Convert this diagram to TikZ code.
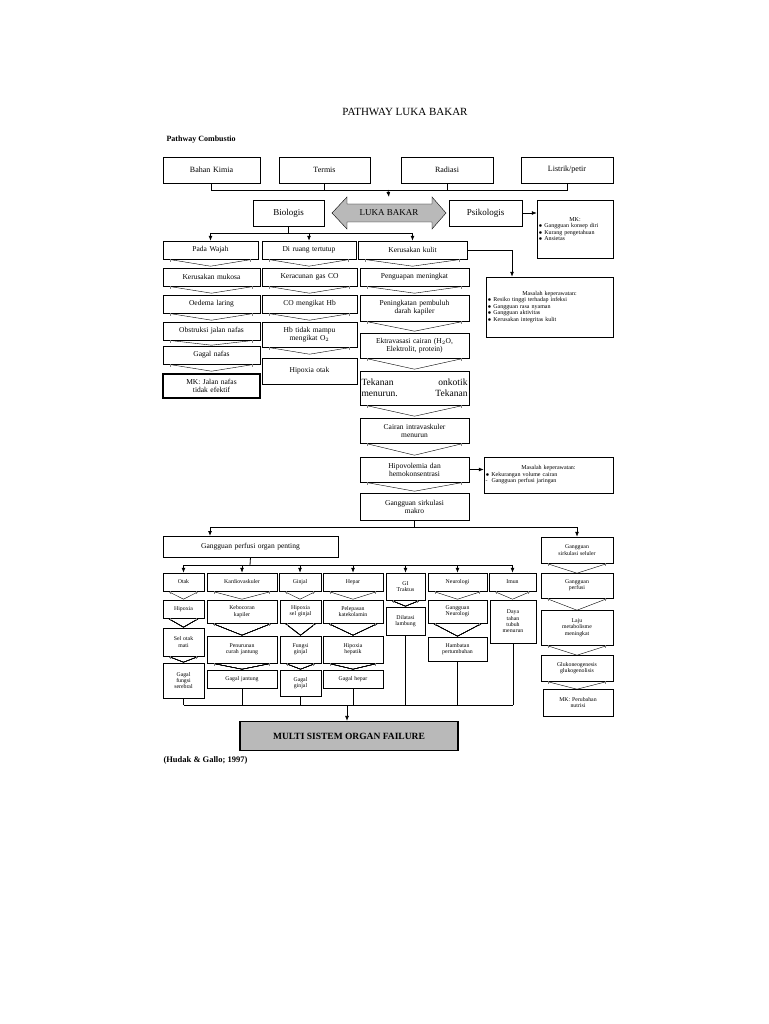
\documentclass[tikz,border=0pt]{standalone}
\usepackage{fontspec}
\setmainfont{Liberation Serif}
\usetikzlibrary{calc,arrows.meta}
\tikzset{box/.style={draw,fill=white,align=center,inner sep=0.5pt,font=\fontsize{7.5}{8}\selectfont},
 sm/.style={font=\fontsize{5.8}{6.3}\selectfont},
 arr/.style={-{Latex[length=5pt,width=4pt]},thick},
 ln/.style={thick}}
\newcommand\bx[7][]{\pgfmathsetmacro\bw{#5-#3}\pgfmathsetmacro\bh{#6-#4}\pgfmathsetmacro\tw{#5-#3-3}
 \node[box,#1,minimum width=\bw pt,minimum height=\bh pt,text width=\tw pt] (#2) at ({(#3+#5)/2},{(#4+#6)/2}) {#7};}
\newcommand\vv[2][7]{\draw ($(#2.south west)+(5,0)$) -- ($(#2.south)+(0,#1)$) -- ($(#2.south east)+(-5,0)$);
 \draw[gray,thick] ($(#2.south west)+(8,0)$) -- ++(0,2.5) ($(#2.south east)+(-8,0)$) -- ++(0,2.5);}
\begin{document}
\begin{tikzpicture}[x=1pt,y=-1pt]
\useasboundingbox (0,0) rectangle (768,1024);
\node (title) at (405,112) {\fontsize{11}{12}\selectfont PATHWAY LUKA BAKAR};
\node[anchor=west] (sub) at (163,140) {\fontsize{8}{9}\selectfont\bfseries Pathway Combustio};
% row 1
\bx[font=\fontsize{8}{9}\selectfont]{bk}{163}{157}{260}{183}{Bahan Kimia}
\bx[font=\fontsize{8}{9}\selectfont]{te}{279}{157}{370}{183}{Termis}
\bx[font=\fontsize{8}{9}\selectfont]{ra}{401}{157}{493}{183}{Radiasi}
\bx[font=\fontsize{8}{9}\selectfont]{li}{521}{157}{613}{183}{Listrik/petir}
\coordinate (j1) at (388,190);
\draw[ln] (bk.south) -- (bk.south|-j1) -- (li.south|-j1) -- (li.south);
\draw[ln] (te.south) -- (te.south|-j1) (ra.south) -- (ra.south|-j1);
% row 2
\bx[font=\fontsize{9}{10}\selectfont]{bio}{253}{200}{324}{226}{Biologis}
\bx[font=\fontsize{9}{10}\selectfont]{psi}{449}{200}{522}{226}{Psikologis}
\draw[fill=gray!55] (347,204)--(432,204)--(432,197)--(446,213)--(432,229)--(432,222)--(347,222)--(347,229)--(332,213)--(347,197)--cycle;
\node (lb) at (389,213) {\fontsize{9}{10}\selectfont LUKA BAKAR};
\draw[arr] (j1) -- (lb.north|-197,197);
\bx[align=left,font=\fontsize{6}{6.5}\selectfont]{mk1}{537}{200}{613}{258}{\centerline{MK:}\\ $\bullet$ Gangguan konsep diri\\ $\bullet$ Kurang pengetahuan\\ $\bullet$ Ansietas}
\draw[arr] (psi.east) -- (mk1.west|-psi.east);
% row 3
\bx{pw}{163}{241}{258}{259}{Pada Wajah}
\bx{dr}{262}{241}{356}{259}{Di ruang tertutup}
\bx{kk}{358}{241}{467}{259}{Kerusakan kulit}
\coordinate (j2) at (310,233);
\draw[ln] (bio.south) -- (bio.south|-j2);
\draw[arr] (pw.north|-j2) -- (pw.north);
\draw[ln] (pw.north|-j2) -- (kk.north|-j2);
\draw[arr] (dr.north|-j2) -- (dr.north);
\draw[arr] (kk.north|-j2) -- (kk.north);
\bx[align=left,font=\fontsize{6}{6.5}\selectfont]{mk2}{486}{277}{613}{337}{\centerline{Masalah keperawatan:}\\ $\bullet$ Resiko tinggi terhadap infeksi\\ $\bullet$ Gangguan rasa nyaman\\ $\bullet$ Gangguan aktivitas\\ $\bullet$ Kerusakan integritas kulit}
\draw[arr] (kk.east) -- (512,250) -- (mk2.north-|512,0);
% columns
\vv{pw}\vv{dr}\vv{kk}
\bx{c1a}{163}{268}{260}{286}{Kerusakan mukosa}
\bx{c1b}{163}{295}{260}{313}{Oedema laring}
\bx{c1c}{163}{322}{260}{340}{Obstruksi jalan nafas}
\bx{c1d}{163}{346}{260}{364}{Gagal nafas}
\bx[very thick]{c1e}{163}{374}{260}{398}{MK: Jalan nafas\\tidak efektif}
\vv{c1a}\vv{c1b}\vv[5]{c1c}\vv{c1d}
\bx{c2a}{262}{268}{357}{286}{Keracunan gas CO}
\bx{c2b}{262}{295}{357}{313}{CO mengikat Hb}
\bx{c2c}{262}{322}{357}{347}{Hb tidak mampu\\mengikat O$_2$}
\bx{c2d}{262}{358}{357}{384}{Hipoxia otak}
\vv{c2a}\vv{c2b}\vv{c2c}
\bx{c3a}{360}{268}{469}{286}{Penguapan meningkat}
\bx{c3b}{360}{295}{469}{321}{Peningkatan pembuluh\\darah kapiler}
\bx{c3c}{360}{333}{469}{358}{Ektravasasi cairan (H$_2$O,\\Elektrolit, protein)}
\bx[align=left,font=\fontsize{9.5}{11}\selectfont]{c3d}{360}{371}{469}{405}{Tekanan\hfill onkotik\\menurun.\hfill Tekanan}
\bx{c3e}{360}{418}{469}{443}{Cairan intravaskuler\\menurun}
\bx{c3f}{360}{457}{469}{482}{Hipovolemia dan\\hemokonsentrasi}
\bx{c3g}{360}{493}{469}{520}{Gangguan sirkulasi\\makro}
\vv{c3a}\vv[10]{c3b}\vv[11]{c3c}\vv[11]{c3d}\vv[12]{c3e}\vv[9]{c3f}
\bx[align=left,font=\fontsize{6}{6.5}\selectfont]{mk3}{484}{457}{613}{493}{\centerline{Masalah keperawatan:}\\ $\bullet$ Kekurangan volume cairan\\ -\ \ Gangguan perfusi jaringan}
\draw[arr] (c3f.east) -- (mk3.west|-c3f.east);
% split
\bx{gpo}{163}{536}{338}{557}{Gangguan perfusi organ penting}
\bx[sm]{gss}{541}{537}{613}{563}{Gangguan\\sirkulasi seluler}
\coordinate (j3) at (414,527);
\draw[ln] (c3g.south) -- (c3g.south|-j3);
\draw[ln] (210,527) -- (577,527);
\draw[arr] (210,527) -- (210,536);
\draw[arr] (577,527) -- (gss.north);
% organs
\bx[sm]{ot}{163}{573}{204}{591}{Otak}
\bx[sm]{ka}{207}{573}{277}{591}{Kardiovaskuler}
\bx[sm]{gi}{279}{573}{321}{591}{Ginjal}
\bx[sm]{he}{323}{573}{383}{591}{Hepar}
\bx[sm]{gt}{386}{573}{425}{600}{GI\\Traktus}
\bx[sm]{ne}{428}{573}{487}{591}{Neurologi}
\bx[sm]{im}{489}{573}{536}{591}{Imun}
\draw[ln] (gpo.south) -- (250,565);
\draw[ln] (ot.north|-0,565) -- (im.north|-0,565);
\foreach \n in {ot,ka,gi,he,gt,ne,im} \draw[arr] (\n.north|-0,565) -- (\n.north);
\bx[sm]{o2}{163}{600}{204}{618}{Hipoxia}
\bx[sm]{k2}{207}{600}{277}{623}{Kebocoran\\kapiler}
\bx[sm]{g2}{280}{600}{321}{623}{Hipoxia\\sel ginjal}
\bx[sm]{h2}{323}{600}{383}{623}{Pelepasan\\katekolamin}
\bx[sm]{t2}{386}{607}{425}{635}{Dilatasi\\lambung}
\bx[sm]{n2}{428}{600}{487}{623}{Gangguan\\Neurologi}
\bx[sm]{i2}{490}{600}{536}{643}{Daya\\tahan\\tubuh\\menurun}
\bx[sm]{o3}{163}{628}{204}{656}{Sel otak\\mati}
\bx[sm]{k3}{207}{636}{277}{663}{Penurunan\\curah jantung}
\bx[sm]{g3}{280}{636}{321}{663}{Fungsi\\ginjal}
\bx[sm]{h3}{323}{636}{383}{663}{Hipoxia\\hepatik}
\bx[sm]{n3}{428}{637}{487}{661}{Hambatan\\pertumbuhan}
\bx[sm]{o4}{163}{663}{204}{698}{Gagal\\fungsi\\serebral}
\bx[sm]{k4}{207}{670}{277}{688}{Gagal jantung}
\bx[sm]{g4}{280}{670}{321}{696}{Gagal\\ginjal}
\bx[sm]{h4}{323}{670}{383}{688}{Gagal hepar}
\foreach \n in {ot,ka,gi,he,ne,im} \vv[8]{\n}
\vv[6]{gt}
\vv[9]{o2}\vv[12]{k2}\vv[12]{g2}\vv[12]{h2}\vv[13]{n2}
\vv[6]{o3}\vv[6]{k3}\vv[6]{g3}\vv[6]{h3}
% collect
\coordinate (j4) at (347,705);
\draw[ln] (o4.south|-j4) -- (i2.south|-j4);
\foreach \n in {o4,k4,g4,h4,t2,n3,i2} \draw[ln] (\n.south) -- (\n.south|-j4);
\bx[sm]{r2}{541}{573}{613}{598}{Gangguan\\perfusi}
\bx[sm]{r3}{541}{610}{613}{645}{Laju\\metabolisme\\meningkat}
\bx[sm]{r4}{541}{655}{613}{681}{Glukoneogenesis\\glukogenolisis}
\bx[sm]{r5}{543}{689}{613}{716}{MK: Perubahan\\nutrisi}
\vv[10]{gss}\vv[12]{r2}\vv[10]{r3}\vv[8]{r4}
\node[draw,very thick,fill=gray!55,minimum width=218pt,minimum height=29pt,font=\fontsize{9.5}{10}\selectfont\bfseries] (msof) at (349,736) {MULTI SISTEM ORGAN FAILURE};
\draw[arr] (j4) -- (msof.north-|j4);
\node[anchor=west,font=\fontsize{8.5}{9}\selectfont\bfseries] (ref) at (160,760) {(Hudak \& Gallo; 1997)};
\end{tikzpicture}
\end{document}
